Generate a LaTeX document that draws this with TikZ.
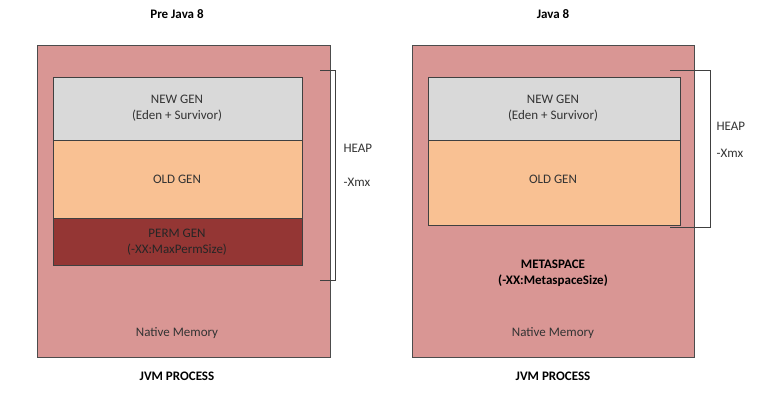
\documentclass[tikz,border=0pt]{standalone}
\usepackage{fontspec}
\setmainfont{Carlito}
\begin{document}
\begin{tikzpicture}[x=1pt,y=-1pt,
  outer/.style={draw=black!70,fill=outerc,line width=0.7pt},
  box/.style={draw=black!75,line width=0.7pt},
  lbl/.style={font=\fontsize{13}{16}\selectfont,align=center,text=black!80},
  blbl/.style={font=\fontsize{13}{16}\selectfont\bfseries,align=center},
  br/.style={draw=black!75,line width=0.7pt}]
\definecolor{outerc}{HTML}{D99694}
\definecolor{newc}{HTML}{D9D9D9}
\definecolor{oldc}{HTML}{F9C193}
\definecolor{permc}{HTML}{943634}
\useasboundingbox (0,0) rectangle (767,407);
% left
\node[blbl] (t1) at (177,14) {Pre Java 8};
\draw[outer] (37,45) rectangle (330,357);
\draw[box,fill=newc] (53,77) rectangle (302,140);
\draw[box,fill=oldc] (53,140) rectangle (302,218);
\draw[box,fill=permc] (53,218) rectangle (302,265);
\node[lbl] (n1) at (177,108) {NEW GEN\\(Eden + Survivor)};
\node[lbl] (o1) at (177,179) {OLD GEN};
\node[lbl,text=black!85] (p1) at (177,242) {PERM GEN\\(-XX:MaxPermSize)};
\node[lbl] (nm1) at (177,333) {Native Memory};
\node[blbl] (j1) at (177,376) {JVM PROCESS};
\draw[br] (320,70) -- (335,70) -- (335,280) -- (320,280);
\node[lbl,anchor=west] (h1) at (340,148) {HEAP};
\node[lbl,anchor=west] (x1) at (340,182) {-Xmx};
% right
\node[blbl] (t2) at (553,14) {Java 8};
\draw[outer] (412,45) rectangle (694,357);
\draw[box,fill=newc] (428,77) rectangle (680,140);
\draw[box,fill=oldc] (428,140) rectangle (680,225);
\node[lbl] (n2) at (553,108) {NEW GEN\\(Eden + Survivor)};
\node[lbl] (o2) at (553,179) {OLD GEN};
\node[blbl] (m2) at (553,273) {METASPACE\\(-XX:MetaspaceSize)};
\node[lbl] (nm2) at (553,333) {Native Memory};
\node[blbl] (j2) at (553,376) {JVM PROCESS};
\draw[br] (670,70) -- (710,70) -- (710,227) -- (670,227);
\node[lbl,anchor=west] (h2) at (713,126) {HEAP};
\node[lbl,anchor=west] (x2) at (713,153) {-Xmx};
\end{tikzpicture}
\end{document}
